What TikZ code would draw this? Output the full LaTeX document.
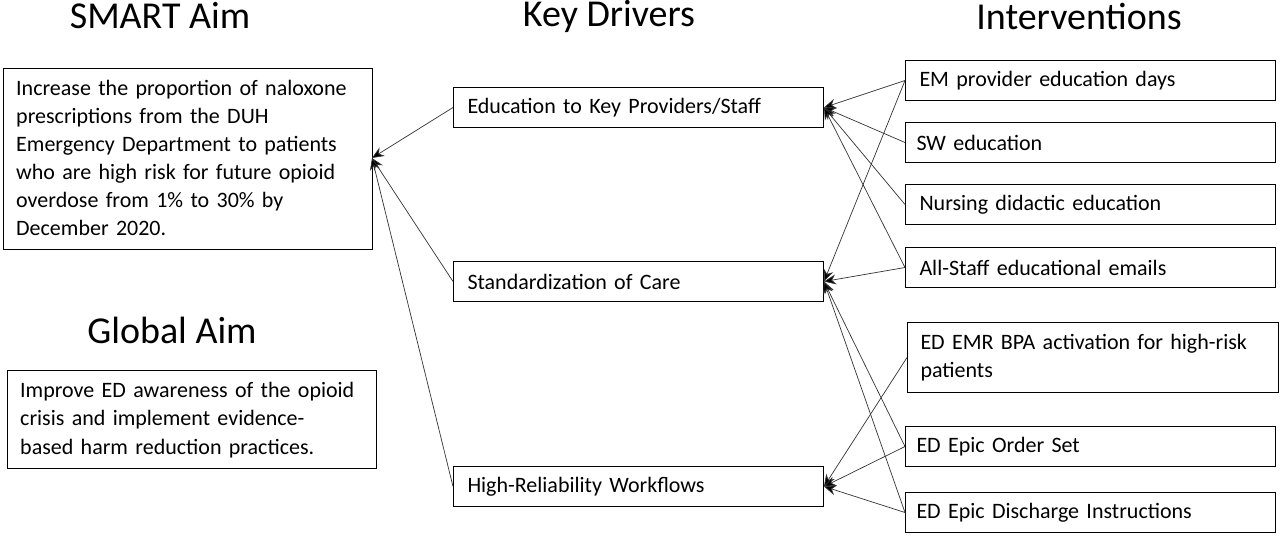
\documentclass[tikz,border=0pt]{standalone}
\usepackage{fontspec}
\setmainfont{Carlito}
\usetikzlibrary{arrows.meta}
\begin{document}
\begin{tikzpicture}[x=1pt,y=-1pt,
  box/.style={draw,line width=1pt,anchor=north west,inner sep=0pt,align=left,font=\fontsize{22}{28}\selectfont},
  ttl/.style={font=\fontsize{38}{42}\selectfont},
  arr/.style={-{Stealth[length=12pt,width=10pt,fill=black]},line width=0.7pt,draw=black!80}]
\useasboundingbox (0,0) rectangle (1280,536);
\node[box,minimum width=369pt,minimum height=181pt] (smart) at (3,68) {};
\node[anchor=north west,inner sep=0pt,text width=350pt,align=left,font=\fontsize{22}{28}\selectfont] (smartt) at (16,80) {Increase the proportion of naloxone\\prescriptions from the DUH\\Emergency Department to patients\\who are high risk for future opioid\\overdose from 1\% to 30\% by\\December 2020.};
\node[box,minimum width=369pt,minimum height=98pt] (glob) at (7,370) {};
\node[anchor=north west,inner sep=0pt,text width=350pt,align=left,font=\fontsize{22}{28.5}\selectfont] (globt) at (20,382) {Improve ED awareness of the opioid\\crisis and implement evidence-\\based harm reduction practices.};
\node[ttl] (t1) at (160,16) {SMART Aim};
\node[ttl] (t2) at (609,16) {Key Drivers};
\node[ttl] (t3) at (1079,16) {Interventions};
\node[ttl] (t4) at (172,330) {Global Aim};
\tikzset{kd/.style={box,minimum width=370pt,minimum height=40pt,text width=370pt}}
\node[kd] (edu) at (453,87) {\hspace*{14pt}Education to Key Providers/Staff};
\node[kd] (std) at (453,261) {\hspace*{14pt}Standardization of Care};
\node[kd] (hrw) at (453,466) {\hspace*{14pt}High-Reliability Workflows};
\node[kd] (em) at (905,60) {\hspace*{14pt}EM provider education days};
\node[kd] (sw) at (905,122) {\hspace*{11pt}SW education};
\node[kd] (nur) at (905,184) {\hspace*{14pt}Nursing didactic education};
\node[kd] (all) at (905,247) {\hspace*{14pt}All-Staff educational emails};
\node[box,minimum width=371pt,minimum height=70pt,text width=371pt] (bpa) at (907,322) {\hspace*{13pt}\parbox{350pt}{ED EMR BPA activation for high-risk\\patients}};
\node[kd] (ord) at (905,426) {\hspace*{11pt}ED Epic Order Set};
\node[kd] (dis) at (905,492) {\hspace*{11pt}ED Epic Discharge Instructions};
\coordinate (sa) at (372,158);
\draw[arr] (edu.west) -- (sa);
\draw[arr] (std.west) -- (sa);
\draw[arr] (hrw.west) -- (sa);
\foreach \n in {em,sw,nur,all} \draw[arr] (\n.west) -- (edu.east);
\foreach \n in {em,all,ord,dis} \draw[arr] (\n.west) -- (std.east);
\foreach \n in {bpa,ord,dis} \draw[arr] (\n.west) -- (hrw.east);
\end{tikzpicture}
\end{document}
